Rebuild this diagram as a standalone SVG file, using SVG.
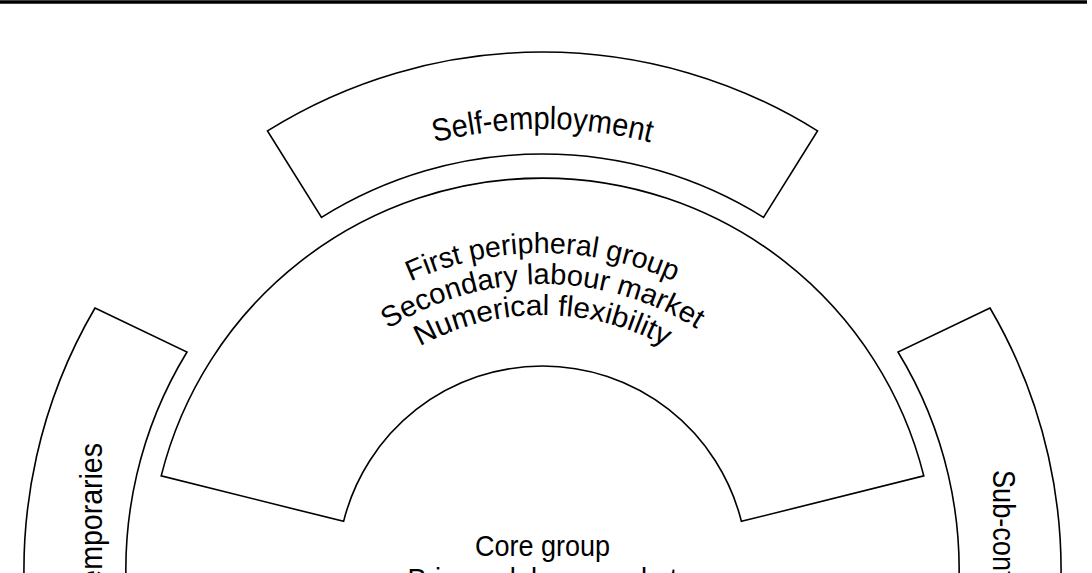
<svg xmlns="http://www.w3.org/2000/svg" xmlns:xlink="http://www.w3.org/1999/xlink" width="1092" height="573" viewBox="0 0 1092 573">
  <style>
    .band { fill: #ffffff; stroke: #000000; stroke-width: 1.6; stroke-linejoin: miter; }
    .lbl { font-family: "Liberation Sans", Arial, sans-serif; font-size: 29px; fill: #000000; }
    .big { font-size: 32px; }
    .rule { stroke: #000000; stroke-width: 3.5; }
  </style>
  <defs>
    <path id="arcSE" d="M 100.5 571 A 442 442 0 0 1 984.5 571"/>
    <path id="arcP1" d="M 224.5 571 A 318 318 0 0 1 860.5 571"/>
    <path id="arcP2" d="M 255.5 571 A 287 287 0 0 1 829.5 571"/>
    <path id="arcP3" d="M 286.5 571 A 256 256 0 0 1 798.5 571"/>
  </defs>
  <rect x="0" y="0" width="1092" height="573" fill="#ffffff"/>
  <line class="rule" x1="0" y1="2" x2="1087" y2="2"/>

  <g id="node-self-employment">
    <path class="band" d="M 267.5 130.9 A 519 519 0 0 1 817.5 130.9 L 763.5 217.4 A 417 417 0 0 0 321.5 217.4 Z"/>
    <text class="lbl big"><textPath xlink:href="#arcSE" href="#arcSE" startOffset="50%" text-anchor="middle" textLength="218" lengthAdjust="spacingAndGlyphs">Self-employment</textPath></text>
  </g>

  <g id="node-first-peripheral">
    <path class="band" d="M 161.2 475.9 A 393 393 0 0 1 923.8 475.9 L 741.4 521.4 A 205 205 0 0 0 343.6 521.4 Z"/>
    <text class="lbl"><textPath xlink:href="#arcP1" href="#arcP1" startOffset="50%" text-anchor="middle" textLength="272" lengthAdjust="spacingAndGlyphs">First peripheral group</textPath></text>
    <text class="lbl"><textPath xlink:href="#arcP2" href="#arcP2" startOffset="50%" text-anchor="middle" textLength="326" lengthAdjust="spacingAndGlyphs">Secondary labour market</textPath></text>
    <text class="lbl"><textPath xlink:href="#arcP3" href="#arcP3" startOffset="50%" text-anchor="middle" textLength="256" lengthAdjust="spacingAndGlyphs">Numerical flexibility</textPath></text>
  </g>

  <g id="node-temporaries">
    <path class="band" d="M 95 308 L 187 352 A 417 417 0 0 0 127.6 607.3 L 26 616.2 A 519 519 0 0 1 95 308 Z"/>
    <text class="lbl big" transform="translate(102,443) rotate(-90)" text-anchor="end" textLength="157" lengthAdjust="spacingAndGlyphs">Temporaries</text>
  </g>

  <g id="node-subcontracting">
    <path class="band" d="M 990 308 L 898 352 A 417 417 0 0 1 957.4 607.3 L 1059 616.2 A 519 519 0 0 0 990 308 Z"/>
    <text class="lbl big" transform="translate(993,470) rotate(90)" textLength="190" lengthAdjust="spacingAndGlyphs">Sub-contracting</text>
  </g>

  <g id="node-core">
    <text class="lbl" font-size="31" x="542.5" y="555.5" text-anchor="middle" textLength="135" lengthAdjust="spacingAndGlyphs">Core group</text>
    <text class="lbl" font-size="31" x="542.5" y="588.5" text-anchor="middle" textLength="270" lengthAdjust="spacingAndGlyphs">Primary labour market</text>
  </g>

  <g id="connectors"/>
</svg>
